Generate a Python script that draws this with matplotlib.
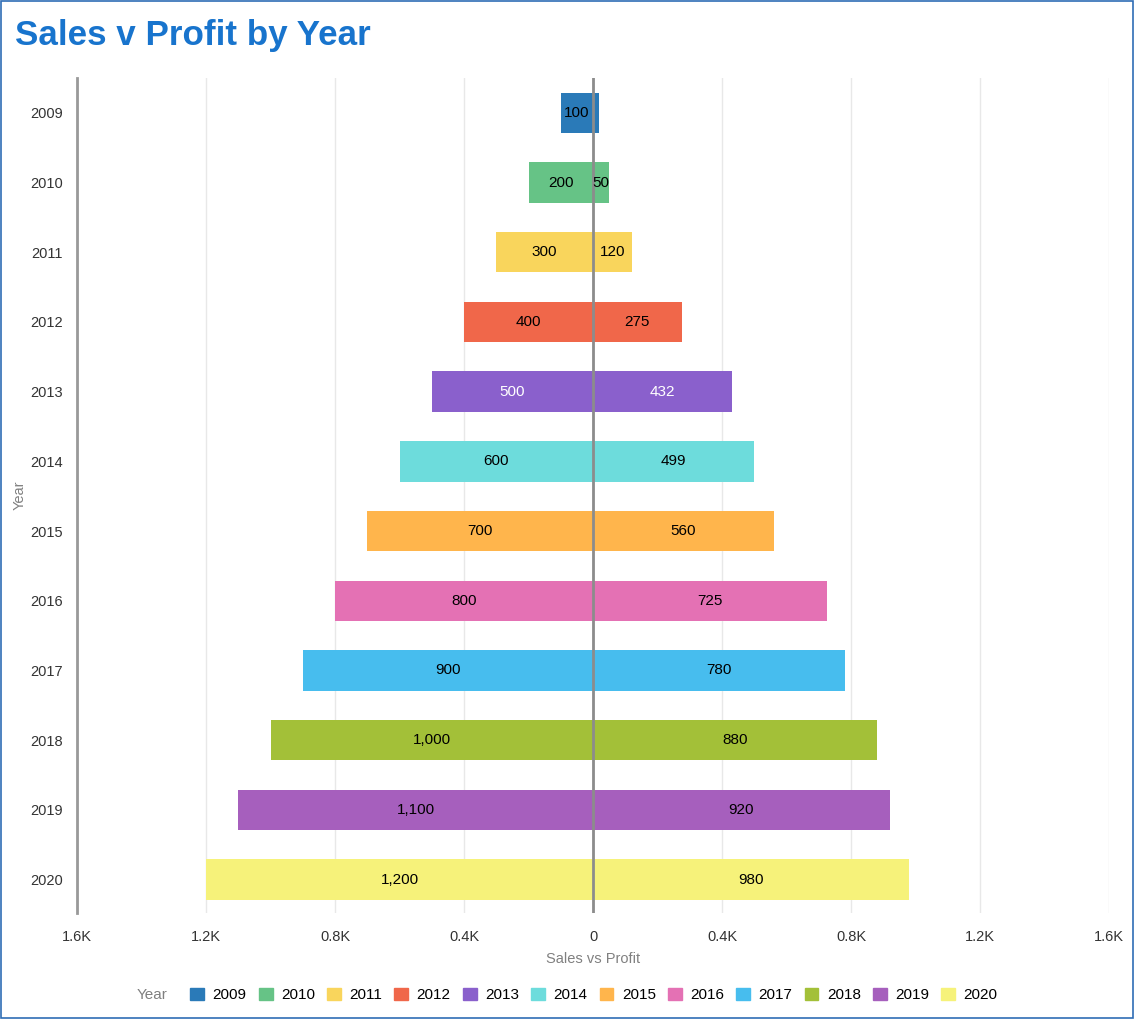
import numpy as np
import matplotlib.pyplot as plt
from matplotlib.patches import Patch, Rectangle
from matplotlib.ticker import FuncFormatter

plt.rcParams['font.family'] = ['Liberation Sans', 'DejaVu Sans']

years = ['2009', '2010', '2011', '2012', '2013', '2014',
         '2015', '2016', '2017', '2018', '2019', '2020']
sales = np.array([100, 200, 300, 400, 500, 600, 700, 800, 900, 1000, 1100, 1200])
profit = np.array([18, 50, 120, 275, 432, 499, 560, 725, 780, 880, 920, 980])
colors = ['#2a7ab8', '#66c386', '#f9d55c', '#f0674a', '#8a60cc', '#6ddcdc',
          '#ffb54c', '#e471b4', '#47bdee', '#a3c038', '#a65fbd', '#f6f27a']
text_colors = ['black'] * 12
text_colors[4] = 'white'

fig = plt.figure(figsize=(11.34, 10.19), dpi=100)
ax = fig.add_axes([77 / 1134, 1 - 913 / 1019, 1032 / 1134, 835 / 1019])

y = np.arange(len(years))
ax.barh(y, -sales, height=0.58, color=colors, zorder=2)
ax.barh(y, profit, height=0.58, color=colors, zorder=2)

for i in range(len(years)):
    ax.text(-sales[i] / 2, y[i], f'{sales[i]:,}', ha='center', va='center',
            fontsize=11, color=text_colors[i], zorder=4)
    if profit[i] >= 40:
        ax.text(profit[i] / 2, y[i], f'{profit[i]:,}', ha='center', va='center',
                fontsize=11, color=text_colors[i], zorder=4)

ax.set_xlim(-1600, 1600)
ax.set_ylim(11.48, -0.5)
ax.set_yticks(y)
ax.set_yticklabels(years)
ax.set_xticks(np.arange(-1600, 1601, 400))


def fmt(v, pos):
    v = abs(v)
    if v == 0:
        return '0'
    return f'{v / 1000:.1f}K'


ax.xaxis.set_major_formatter(FuncFormatter(fmt))
ax.tick_params(axis='both', length=0, labelsize=10.5, colors='#333333')
ax.tick_params(axis='x', pad=12)
ax.tick_params(axis='y', pad=10)
ax.grid(axis='x', color='#e8e8e8', linewidth=1, zorder=0)
ax.axvline(0, color='#8c8c8c', linewidth=2, zorder=3)
for s in ['top', 'right', 'bottom']:
    ax.spines[s].set_visible(False)
ax.spines['left'].set_color('#999999')
ax.spines['left'].set_linewidth(2)

ax.set_xlabel('Sales vs Profit', color='#808080', fontsize=10.5, labelpad=6)
ax.set_ylabel('Year', color='#808080', fontsize=10.5, labelpad=2)
ax.yaxis.set_label_coords(-50 / 1032, 0.5)

fig.text(15 / 1134, 1 - 35 / 1019, 'Sales v Profit by Year', fontsize=25.2,
         fontweight='bold', color='#1874cd', va='center', ha='left')

handles = [Patch(color=c, label=yr) for c, yr in zip(colors, years)]
fig.text(152 / 1134, 1 - 995 / 1019, 'Year', color='#808080', fontsize=11,
         ha='center', va='center')
fig.legend(handles=handles, loc='center', bbox_to_anchor=(594 / 1134, 1 - 995 / 1019),
           ncol=12, frameon=False, fontsize=11, handlelength=0.9, handleheight=0.9,
           handletextpad=0.55, columnspacing=0.8)

fig.patches.append(Rectangle((0.0005, 0.0005), 0.999, 0.999, transform=fig.transFigure,
                             fill=False, edgecolor='#2f6db5', linewidth=1.2))

fig.savefig('out.png', dpi=100)
